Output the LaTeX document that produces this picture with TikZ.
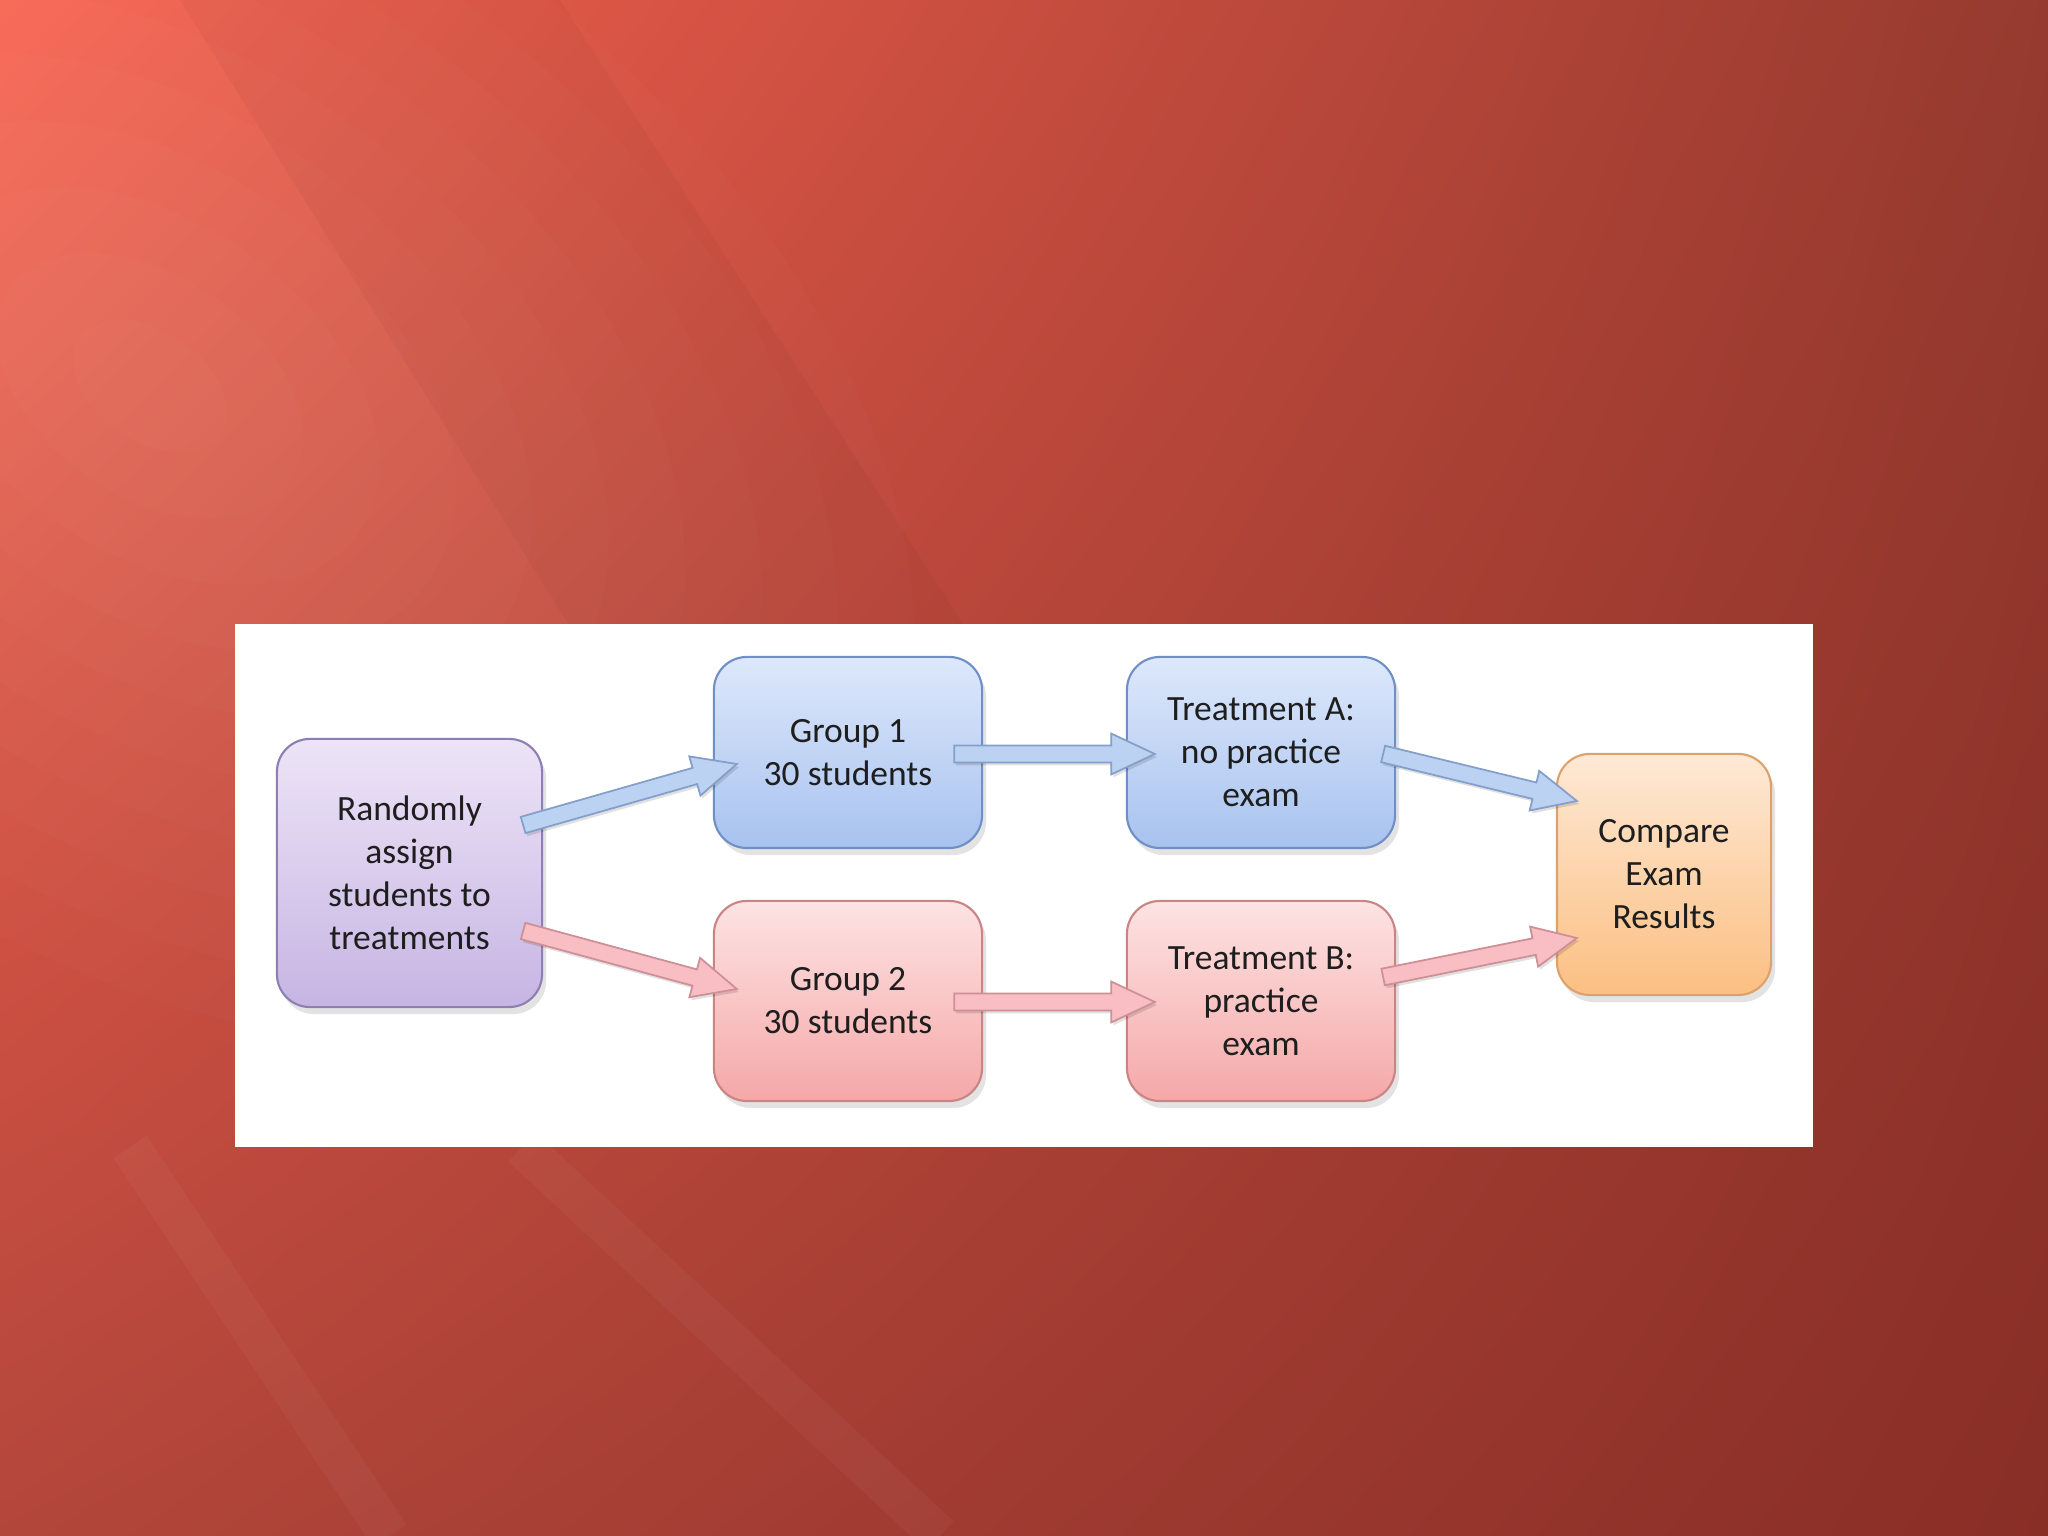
\documentclass[tikz,border=0pt]{standalone}
\usepackage{fontspec}
\setmainfont{Carlito}
\usetikzlibrary{calc,shadows,shadings}
\definecolor{bgUL}{HTML}{F8614F}
\definecolor{bgUR}{HTML}{963A2F}
\definecolor{bgLL}{HTML}{B3463B}
\definecolor{bgLR}{HTML}{892E26}
\definecolor{blueT}{HTML}{DDE8FB}
\definecolor{blueB}{HTML}{A8C2EF}
\definecolor{blueE}{HTML}{6F8FC6}
\definecolor{pinkT}{HTML}{FDE3E3}
\definecolor{pinkB}{HTML}{F5A8A8}
\definecolor{pinkE}{HTML}{C98484}
\definecolor{purpT}{HTML}{EDE4F7}
\definecolor{purpB}{HTML}{C6B5E3}
\definecolor{purpE}{HTML}{8E7FB3}
\definecolor{orT}{HTML}{FEE9D5}
\definecolor{orB}{HTML}{FBBF82}
\definecolor{orE}{HTML}{DDA16E}
\definecolor{arrBlue}{HTML}{BCD2F2}
\definecolor{arrBlueE}{HTML}{849FCA}
\definecolor{arrPink}{HTML}{F8BEC4}
\definecolor{arrPinkE}{HTML}{CF8F96}
\definecolor{txt}{HTML}{1E1E1E}
\tikzset{
  box/.style={rounded corners=3.3mm, line width=0.6pt, align=center,
    text=txt, font=\fontsize{10.1}{12.2}\selectfont, inner sep=0pt,
    drop shadow={opacity=0.22, shadow xshift=0.4mm, shadow yshift=-0.7mm}},
  bluebox/.style={box, draw=blueE, top color=blueT, bottom color=blueB},
  pinkbox/.style={box, draw=pinkE, top color=pinkT, bottom color=pinkB},
  purpbox/.style={box, draw=purpE, top color=purpT, bottom color=purpB},
  orbox/.style={box, draw=orE, top color=orT, bottom color=orB},
  bluearr/.style={fill=arrBlue, draw=arrBlueE, line width=0.5pt, line join=miter},
  pinkarr/.style={fill=arrPink, draw=arrPinkE, line width=0.5pt, line join=miter},
  arrshadow/.style={fill=black, opacity=0.12},
  streak/.style={white, opacity=0.035, line width=4mm, line cap=butt},
}
\newcommand\blockarr[3]{%
  \path[arrshadow] let \p1=($(#2)-(#1)$), \n1={atan2(\y1,\x1)}, \n2={veclen(\x1,\y1)} in
    [shift={($(#1)+(2,-3)$)}, rotate=\n1] (0pt,-2.4pt) -- (\n2-12.4pt,-2.4pt) -- (\n2-12.4pt,-5.8pt)
    -- (\n2,0pt) -- (\n2-12.4pt,5.8pt) -- (\n2-12.4pt,2.4pt) -- (0pt,2.4pt) -- cycle;
  \path[#3] let \p1=($(#2)-(#1)$), \n1={atan2(\y1,\x1)}, \n2={veclen(\x1,\y1)} in
    [shift={(#1)}, rotate=\n1] (0pt,-2.4pt) -- (\n2-12.4pt,-2.4pt) -- (\n2-12.4pt,-5.8pt)
    -- (\n2,0pt) -- (\n2-12.4pt,5.8pt) -- (\n2-12.4pt,2.4pt) -- (0pt,2.4pt) -- cycle;}
\begin{document}
\begin{tikzpicture}[x=0.01cm,y=0.01cm]
\useasboundingbox (0,0) rectangle (2048,1536);
% background
\shade[upper left=bgUL, upper right=bgUR, lower left=bgLL, lower right=bgLR]
  (0,0) rectangle (2048,1536);
\foreach \r in {1,...,10}
  \fill[white, opacity=0.016, rotate around={-35:(150,1150)}]
    (150,1150) ellipse ({85*\r} and {55*\r});
\fill[black, opacity=0.03] (180,1536) -- (560,1536) -- (1100,700) -- (700,700) -- cycle;
\draw[streak] (130,389) -- (390,0);
\draw[streak] (522,389) -- (940,0);
% white panel
\fill[white] (235,389) rectangle (1813,912);
% nodes
\node[purpbox, minimum width=2.65cm, minimum height=2.68cm] (rand) at (409.5,663)
  {Randomly\\assign\\students to\\treatments};
\node[bluebox, minimum width=2.68cm, minimum height=1.91cm] (g1) at (848,783.5)
  {Group 1\\30 students};
\node[pinkbox, minimum width=2.68cm, minimum height=2.0cm] (g2) at (848,535)
  {Group 2\\30 students};
\node[bluebox, minimum width=2.68cm, minimum height=1.91cm] (ta) at (1261,783.5)
  {Treatment A:\\no practice\\exam};
\node[pinkbox, minimum width=2.68cm, minimum height=2.0cm] (tb) at (1261,535)
  {Treatment B:\\practice\\exam};
\node[orbox, minimum width=2.14cm, minimum height=2.41cm] (cmp) at (1664,661.5)
  {Compare\\Exam\\Results};
% connector end points
\coordinate (a1s) at ($(rand.east)+(-20,48)$);
\coordinate (a1e) at ($(g1.west)+(24,-11.5)$);
\coordinate (a2s) at ($(rand.east)+(-20,-58)$);
\coordinate (a2e) at ($(g2.west)+(24,12)$);
\coordinate (a3s) at ($(g1.east)+(-29,-1.5)$);
\coordinate (a3e) at ($(ta.west)+(29,-1.5)$);
\coordinate (a4s) at ($(g2.east)+(-29,-1)$);
\coordinate (a4e) at ($(tb.west)+(29,-1)$);
\coordinate (a5s) at ($(ta.east)+(-13,-1.5)$);
\coordinate (a5e) at ($(cmp.west)+(21,73.5)$);
\coordinate (a6s) at ($(tb.east)+(-13,24)$);
\coordinate (a6e) at ($(cmp.west)+(21,-63.5)$);
% connectors
\blockarr{a1s}{a1e}{bluearr}
\blockarr{a2s}{a2e}{pinkarr}
\blockarr{a3s}{a3e}{bluearr}
\blockarr{a4s}{a4e}{pinkarr}
\blockarr{a5s}{a5e}{bluearr}
\blockarr{a6s}{a6e}{pinkarr}
\end{tikzpicture}
\end{document}
